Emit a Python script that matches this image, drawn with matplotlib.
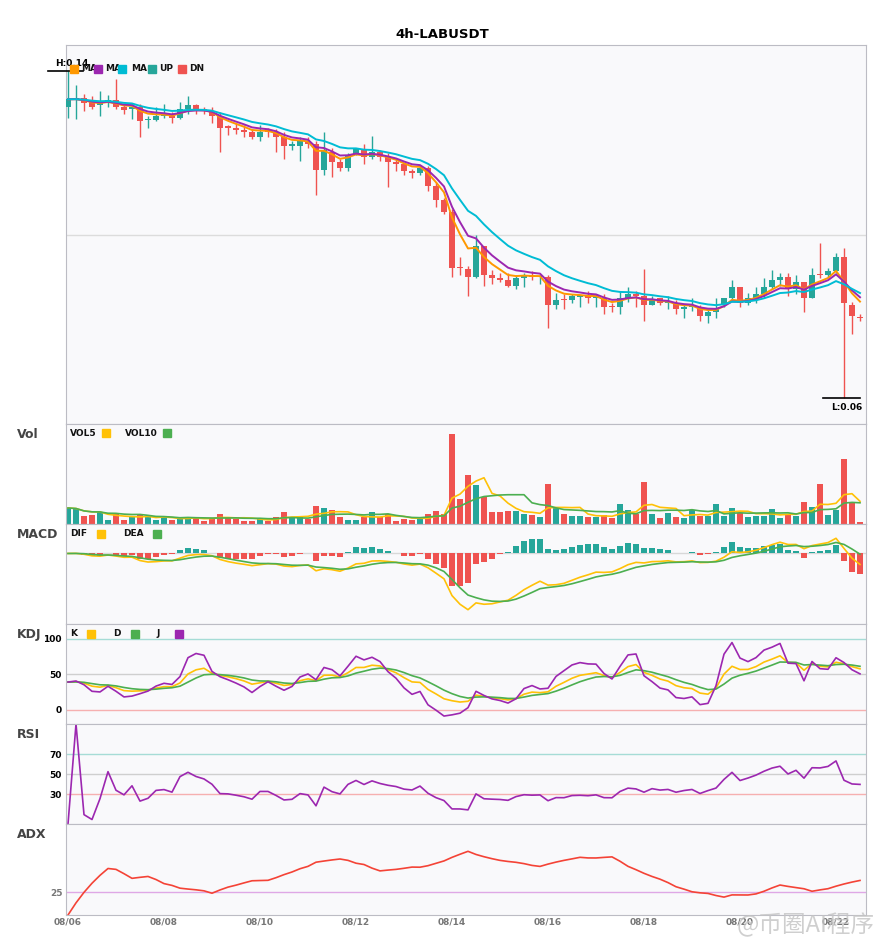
import numpy as np
import pandas as pd
import matplotlib
matplotlib.use('Agg')
import matplotlib.pyplot as plt

plt.rcParams['font.family'] = ['DejaVu Sans']

# ---- data (4h candles) ----
title = '4h-LABUSDT'
opens = [0.1310, 0.1330, 0.1334, 0.1324, 0.1316, 0.1322, 0.1329, 0.1312, 0.1307, 0.1312,
         0.1279, 0.1280, 0.1289, 0.1290, 0.1285, 0.1307, 0.1315, 0.1307, 0.1300, 0.1290,
         0.1262, 0.1257, 0.1254, 0.1249, 0.1239, 0.1258, 0.1251, 0.1237, 0.1216, 0.1217,
         0.1227, 0.1222, 0.1158, 0.1202, 0.1176, 0.1163, 0.1195, 0.1207, 0.1188, 0.1202,
         0.1188, 0.1178, 0.1171, 0.1156, 0.1151, 0.1163, 0.1119, 0.1083, 0.1054, 0.0920,
         0.0917, 0.0897, 0.0971, 0.0900, 0.0893, 0.0888, 0.0875, 0.0893, 0.0902, 0.0896,
         0.0897, 0.0827, 0.0842, 0.0839, 0.0848, 0.0849, 0.0844, 0.0846, 0.0825, 0.0822,
         0.0846, 0.0856, 0.0851, 0.0829, 0.0844, 0.0832, 0.0832, 0.0817, 0.0823, 0.0824,
         0.0802, 0.0810, 0.0827, 0.0844, 0.0871, 0.0834, 0.0844, 0.0856, 0.0873, 0.0888,
         0.0897, 0.0866, 0.0883, 0.0846, 0.0903, 0.0902, 0.0910, 0.0946, 0.0829, 0.0798]
highs = [0.1400, 0.1366, 0.1344, 0.1337, 0.1349, 0.1341, 0.1380, 0.1322, 0.1322, 0.1319,
         0.1290, 0.1310, 0.1319, 0.1298, 0.1324, 0.1339, 0.1319, 0.1312, 0.1312, 0.1298,
         0.1268, 0.1271, 0.1266, 0.1258, 0.1266, 0.1261, 0.1258, 0.1249, 0.1229, 0.1237,
         0.1239, 0.1229, 0.1249, 0.1210, 0.1185, 0.1200, 0.1212, 0.1222, 0.1241, 0.1207,
         0.1198, 0.1185, 0.1175, 0.1161, 0.1168, 0.1168, 0.1127, 0.1090, 0.1063, 0.0944,
         0.0924, 0.1000, 0.0973, 0.0914, 0.0905, 0.0907, 0.0900, 0.0905, 0.0910, 0.0902,
         0.0902, 0.0858, 0.0856, 0.0856, 0.0851, 0.0863, 0.0856, 0.0856, 0.0832, 0.0861,
         0.0871, 0.0861, 0.0917, 0.0849, 0.0846, 0.0851, 0.0839, 0.0829, 0.0846, 0.0829,
         0.0819, 0.0844, 0.0846, 0.0888, 0.0871, 0.0858, 0.0871, 0.0895, 0.0914, 0.0907,
         0.0907, 0.0900, 0.0883, 0.0919, 0.0980, 0.0919, 0.0954, 0.0968, 0.0836, 0.0805]
lows = [0.1285, 0.1283, 0.1302, 0.1307, 0.1288, 0.1312, 0.1307, 0.1295, 0.1283, 0.1239,
        0.1261, 0.1278, 0.1285, 0.1271, 0.1283, 0.1295, 0.1295, 0.1293, 0.1273, 0.1202,
        0.1244, 0.1246, 0.1237, 0.1234, 0.1227, 0.1237, 0.1202, 0.1185, 0.1205, 0.1180,
        0.1210, 0.1097, 0.1144, 0.1141, 0.1156, 0.1156, 0.1193, 0.1173, 0.1185, 0.1180,
        0.1117, 0.1156, 0.1144, 0.1137, 0.1146, 0.1107, 0.1066, 0.1051, 0.0897, 0.0902,
        0.0851, 0.0895, 0.0875, 0.0878, 0.0883, 0.0871, 0.0868, 0.0873, 0.0890, 0.0880,
        0.0771, 0.0819, 0.0819, 0.0832, 0.0822, 0.0834, 0.0822, 0.0805, 0.0812, 0.0807,
        0.0836, 0.0824, 0.0790, 0.0827, 0.0827, 0.0819, 0.0807, 0.0797, 0.0814, 0.0788,
        0.0785, 0.0797, 0.0822, 0.0839, 0.0824, 0.0827, 0.0834, 0.0846, 0.0866, 0.0875,
        0.0851, 0.0856, 0.0810, 0.0844, 0.0895, 0.0897, 0.0907, 0.0600, 0.0758, 0.0790]
closes = [0.1330, 0.1331, 0.1322, 0.1312, 0.1317, 0.1329, 0.1312, 0.1305, 0.1312, 0.1278,
          0.1281, 0.1290, 0.1291, 0.1285, 0.1307, 0.1315, 0.1307, 0.1302, 0.1290, 0.1261,
          0.1260, 0.1255, 0.1249, 0.1239, 0.1251, 0.1251, 0.1237, 0.1217, 0.1218, 0.1227,
          0.1222, 0.1158, 0.1205, 0.1178, 0.1163, 0.1195, 0.1210, 0.1188, 0.1202, 0.1188,
          0.1178, 0.1171, 0.1156, 0.1151, 0.1163, 0.1119, 0.1083, 0.1054, 0.0919, 0.0918,
          0.0897, 0.0971, 0.0900, 0.0893, 0.0888, 0.0875, 0.0893, 0.0902, 0.0897, 0.0898,
          0.0827, 0.0841, 0.0840, 0.0849, 0.0850, 0.0846, 0.0849, 0.0824, 0.0823, 0.0844,
          0.0856, 0.0851, 0.0829, 0.0841, 0.0832, 0.0834, 0.0817, 0.0822, 0.0825, 0.0802,
          0.0810, 0.0817, 0.0844, 0.0871, 0.0834, 0.0844, 0.0856, 0.0873, 0.0888, 0.0897,
          0.0866, 0.0883, 0.0846, 0.0902, 0.0901, 0.0910, 0.0946, 0.0832, 0.0800, 0.0796]
volumes = [160, 150, 83, 93, 117, 43, 100, 43, 67, 100,
           70, 43, 67, 43, 50, 73, 73, 27, 50, 103,
           73, 53, 33, 33, 53, 33, 73, 123, 67, 67,
           53, 183, 163, 143, 73, 43, 43, 73, 123, 67,
           103, 33, 53, 43, 53, 103, 133, 103, 903, 253,
           493, 393, 270, 123, 123, 133, 133, 103, 93, 73,
           403, 157, 103, 83, 83, 73, 73, 93, 63, 203,
           143, 103, 423, 103, 63, 113, 73, 63, 143, 83,
           83, 203, 83, 163, 113, 73, 83, 83, 153, 63,
           103, 83, 223, 173, 403, 93, 143, 653, 223, 23]
tick_pos = [0, 12, 24, 36, 48, 60, 72, 84, 96]
tick_labels = ['08/06', '08/08', '08/10', '08/12', '08/14', '08/16', '08/18', '08/20', '08/22']

UP = '#26a69a'
DN = '#ef5350'

df = pd.DataFrame({'open': opens, 'high': highs, 'low': lows, 'close': closes, 'vol': volumes})
n = len(df)
x = np.arange(n)
cols = np.where(df['close'] >= df['open'], UP, DN)
c, h, l = df['close'], df['high'], df['low']


def ema(s, span):
    return s.ewm(span=span, adjust=False).mean()


# indicators
ma_a = ema(c, 5)
ma_b = ema(c, 7)
ma_c = ema(c, 13)
vol5 = df['vol'].rolling(5, min_periods=1).mean()
vol10 = df['vol'].rolling(10, min_periods=1).mean()

dif = ema(c, 6) - ema(c, 13)
dea = ema(dif, 5)
hist = 2 * (dif - dea)

lo9 = l.rolling(9, min_periods=1).min()
hi9 = h.rolling(9, min_periods=1).max()
rsv = ((c - lo9) / (hi9 - lo9) * 100).fillna(50)
k = rsv.ewm(com=2, adjust=False).mean()
d = k.ewm(com=2, adjust=False).mean()
j = 3 * k - 2 * d

delta = c.diff().fillna(0)
gain = delta.clip(lower=0).ewm(com=13, adjust=False).mean()
loss = (-delta.clip(upper=0)).ewm(com=13, adjust=False).mean()
rsi = (100 * gain / (gain + loss)).fillna(0)

upm = h.diff().fillna(0)
dnm = -l.diff().fillna(0)
pdm = pd.Series(np.where((upm > dnm) & (upm > 0), upm, 0.0))
ndm = pd.Series(np.where((dnm > upm) & (dnm > 0), dnm, 0.0))
tr = pd.concat([h - l, (h - c.shift()).abs(), (l - c.shift()).abs()], axis=1).max(axis=1)
atr = ema(tr, 14)
pdi = 100 * ema(pdm, 14) / atr
ndi = 100 * ema(ndm, 14) / atr
dx = (100 * (pdi - ndi).abs() / (pdi + ndi)).fillna(0)
adx = ema(dx, 14)

# ---- figure ----
fig = plt.figure(figsize=(8.85, 9.5), dpi=100)
FW, FH = 885, 950


def panel(top, height):
    ax = fig.add_axes([66 / FW, 1 - (top + height) / FH, 800 / FW, height / FH])
    ax.set_facecolor('#f9f9fb')
    for s in ax.spines.values():
        s.set_color('#bcbcc4')
    ax.set_xlim(-0.25, n - 0.25)
    ax.tick_params(length=0, labelbottom=False, labelleft=False)
    return ax


def legend_row(ax, y, items):
    for tx, label, sx, col in items:
        ax.text(tx, y, label, transform=ax.transAxes, fontsize=6.5, fontweight='bold',
                va='center', ha='left', color='#111', zorder=5)
        ax.plot(sx, y, 's', ms=6, color=col, transform=ax.transAxes, zorder=6, clip_on=False)


def ylabels(ax, ticks):
    ax.set_yticks(ticks)
    ax.tick_params(labelleft=True, labelsize=6.5, pad=3)
    for t in ax.get_yticklabels():
        t.set_fontweight('bold')


ax = panel(45, 379)
ax_vol = panel(424, 100)
ax_macd = panel(524, 100)
ax_kdj = panel(624, 100)
ax_rsi = panel(724, 100)
ax_adx = panel(824, 91)

# main candles
hi_v, lo_v = h.max(), l.min()
rng = hi_v - lo_v
ax.set_ylim(lo_v - 0.078 * rng, hi_v + 0.078 * rng)
y0, y1 = ax.get_ylim()
ax.axhline((y0 + y1) / 2, color='#dcdcdc', lw=1, zorder=0)
doji = (y1 - y0) * 1.5 / 379
body_lo = np.minimum(df['open'], df['close'])
body_h = np.maximum((df['close'] - df['open']).abs(), doji)
ax.vlines(x, l, h, colors=cols, lw=1, zorder=2)
ax.bar(x, body_h, bottom=body_lo, width=0.75, color=cols, lw=0, zorder=3)
ax.plot(x, ma_a, color='#ff9800', lw=1.4, zorder=4)
ax.plot(x, ma_b, color='#9c27b0', lw=1.4, zorder=4)
ax.plot(x, ma_c, color='#00bcd4', lw=1.4, zorder=4)

imax, imin = int(h.idxmax()), int(l.idxmin())
ax.plot([imax - 2.46, imax + 1.9], [hi_v, hi_v], color='black', lw=1.2, clip_on=False, zorder=5)
ax.annotate(f'H:{hi_v:.2f}', (imax + 0.5, hi_v), xytext=(0, 1.5), textcoords='offset points',
            ha='center', va='bottom', fontsize=6.5, fontweight='bold', zorder=5)
ax.plot([imin - 2.6, imin + 2], [lo_v, lo_v], color='black', lw=1.2, clip_on=False, zorder=5)
ax.annotate(f'L:{lo_v:.2f}', (imin + 0.4, lo_v), xytext=(0, -3), textcoords='offset points',
            ha='center', va='top', fontsize=6.5, fontweight='bold', zorder=5)

legend_row(ax, 0.9367, [(0.0185, 'MA', 0.01, '#ff9800'), (0.04875, 'MA', 0.04, '#9c27b0'),
                        (0.08125, 'MA', 0.07, '#00bcd4'), (0.11625, 'UP', 0.1075, UP),
                        (0.15375, 'DN', 0.145, DN)])

# volume
ax_vol.bar(x, df['vol'], width=0.75, color=cols, lw=0, zorder=2)
ax_vol.plot(x, vol5, color='#ffc107', lw=1.2, zorder=3)
ax_vol.plot(x, vol10, color='#4caf50', lw=1.2, zorder=3)
ax_vol.set_ylim(0, df['vol'].max() * 1.107)
legend_row(ax_vol, 0.91, [(0.005, 'VOL5', 0.0494, '#ffc107'), (0.07375, 'VOL10', 0.126, '#4caf50')])

# macd
ax_macd.axhline(0, color='#d8d8d8', lw=1, zorder=0)
ax_macd.bar(x, hist, width=0.75, color=np.where(hist >= 0, UP, DN), lw=0, zorder=2)
ax_macd.plot(x, dif, color='#ffc107', lw=1.2, zorder=3)
ax_macd.plot(x, dea, color='#4caf50', lw=1.2, zorder=3)
mlo = min(dif.min(), dea.min(), hist.min())
mhi = max(dif.max(), dea.max(), hist.max())
ax_macd.set_ylim(mlo - 0.2 * (mhi - mlo), mhi + 0.2 * (mhi - mlo))
legend_row(ax_macd, 0.9, [(0.005, 'DIF', 0.04375, '#ffc107'), (0.07125, 'DEA', 0.11375, '#4caf50')])

# kdj
for lev, col in [(100, '#a6dcd6'), (50, '#cfcfcf'), (0, '#f6b0b0')]:
    ax_kdj.axhline(lev, color=col, lw=1, zorder=0)
ax_kdj.plot(x, k, color='#ffc107', lw=1.2)
ax_kdj.plot(x, d, color='#4caf50', lw=1.2)
ax_kdj.plot(x, j, color='#9c27b0', lw=1.2)
ax_kdj.set_ylim(-20, 121)
ylabels(ax_kdj, [0, 50, 100])
legend_row(ax_kdj, 0.9, [(0.005, 'K', 0.03125, '#ffc107'), (0.05875, 'D', 0.08625, '#4caf50'),
                         (0.1125, 'J', 0.14125, '#9c27b0')])

# rsi
for lev, col in [(70, '#a6dcd6'), (50, '#cfcfcf'), (30, '#f6b0b0')]:
    ax_rsi.axhline(lev, color=col, lw=1, zorder=0)
ax_rsi.plot(x, rsi, color='#9c27b0', lw=1.2)
ax_rsi.set_ylim(0, 100)
ylabels(ax_rsi, [30, 50, 70])

# adx
ax_adx.axhline(25, color='#dfa8e6', lw=1, zorder=0)
ax_adx.plot(x, adx, color='#f44336', lw=1.2)
ax_adx.set_ylim(0, 100)
ylabels(ax_adx, [25])
ax_adx.set_xticks(tick_pos, tick_labels)
ax_adx.tick_params(labelbottom=True, labelsize=6.5, labelcolor='#777777', pad=2)
for t in ax_adx.get_xticklabels():
    t.set_fontweight('bold')

# panel names and title
for name, top in [('Vol', 424), ('MACD', 524), ('KDJ', 624), ('RSI', 724), ('ADX', 824)]:
    fig.text(17 / FW, 1 - (top + 10.5) / FH, name, fontsize=9, fontweight='bold',
             color='#444444', ha='left', va='center')
fig.text(0.5, 1 - 34 / FH, title, fontsize=9.5, fontweight='bold', ha='center', va='center')

fig.text(0.91, 1 - 925 / FH, '@币圈AI程序', fontsize=17, color='#c4c4c4', alpha=0.8,
         ha='center', va='center', family=['Noto Sans CJK SC', 'DejaVu Sans'])

fig.savefig('out.png', dpi=100)
